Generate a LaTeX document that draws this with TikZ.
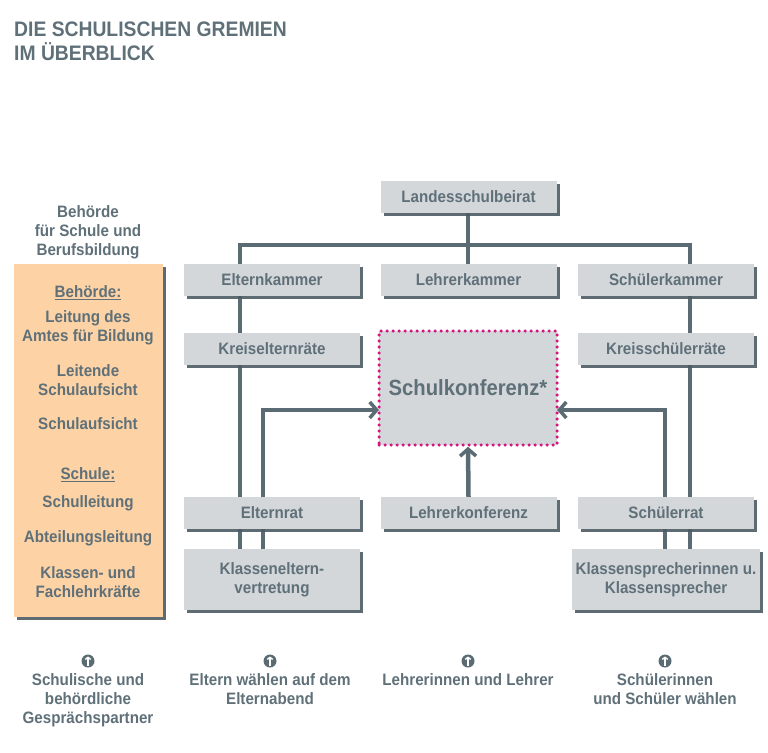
\documentclass[tikz,border=0pt]{standalone}
\usepackage{fontspec}
\setmainfont{Liberation Sans}[FakeStretch=0.92]
\usetikzlibrary{shadows,arrows.meta}
\definecolor{txt}{HTML}{5F7079}
\definecolor{boxf}{HTML}{D4D7DA}
\definecolor{ln}{HTML}{5B6B74}
\definecolor{org}{HTML}{FDD3A5}
\definecolor{mag}{HTML}{D4147F}
\tikzset{
  gbox/.style={fill=boxf,minimum width=176pt,minimum height=32pt,text=txt,font=\bfseries\fontsize{16.5}{19}\selectfont,align=center,
    drop shadow={shadow xshift=3pt,shadow yshift=-3pt,fill=ln!85!black,opacity=0.9}},
  tx/.style={text=txt,font=\bfseries\fontsize{16.5}{19}\selectfont,align=center},
  conn/.style={draw=ln,line width=4.5pt},
  arr/.style={conn,-{Straight Barb[length=7pt,width=16pt,line width=3.5pt]}},
  ico/.style={circle,fill=ln,inner sep=0pt,minimum size=13pt}
}
\begin{document}
\begin{tikzpicture}[x=1pt,y=-1pt]
\useasboundingbox (0,0) rectangle (768,752);
% title
\node[anchor=north west,text=txt,font=\bfseries\fontsize{21}{24}\selectfont,align=left,inner sep=0pt] (title) at (14,22) {DIE SCHULISCHEN GREMIEN\\IM ÜBERBLICK};
% left column
\node[tx] (behhead) at (88,232) {Behörde\\für Schule und\\Berufsbildung};
\node[fill=org,minimum width=149pt,minimum height=353pt,drop shadow={shadow xshift=3pt,shadow yshift=-3pt,fill=ln!85!black,opacity=0.9}] (orange) at (88.5,440.5) {};
\node[tx] (l1) at (88,293) {\underline{Behörde:}};
\node[tx] (l2) at (88,328) {Leitung des\\Amtes für Bildung};
\node[tx] (l3) at (88,380) {Leitende\\Schulaufsicht};
\node[tx] (l4) at (88,424) {Schulaufsicht};
\node[tx] (l5) at (88,475) {\underline{Schule:}};
\node[tx] (l6) at (88,503) {Schulleitung};
\node[tx] (l7) at (88,538) {Abteilungsleitung};
\node[tx] (l8) at (88,582) {Klassen- und\\Fachlehrkräfte};
% connector points
\coordinate (hl) at (240,245);
\coordinate (hr) at (690,245);
\coordinate (hm) at (468,245);
\coordinate (kevtopL) at (240,549);
\coordinate (kevtopR) at (263,549);
\coordinate (kstopL) at (665,549);
\coordinate (kstopR) at (690,549);
\coordinate (skoW) at (379,410);
\coordinate (skoE) at (557,410);
% connectors (behind boxes)
\draw[conn] (240,296) -- (hl) -- (hr) -- (690,296);
\draw[conn] (468,213) -- (hm) -- (468,264);
\draw[conn] (240,296) -- (kevtopL);
\draw[conn] (690,296) -- (kstopR);
\draw[arr] (kevtopR) -- (263,410) -- (skoW);
\draw[arr] (kstopL) -- (665,410) -- (skoE);
% boxes
\node[gbox] (lsb) at (468.5,197) {Landesschulbeirat};
\node[gbox] (ek) at (272,280) {Elternkammer};
\node[gbox] (lk) at (468.5,280) {Lehrerkammer};
\node[gbox] (sk) at (666,280) {Schülerkammer};
\node[gbox] (ker) at (272,349) {Kreiselternräte};
\node[gbox] (ksr) at (666,349) {Kreisschülerräte};
\node[fill=boxf,minimum width=178pt,minimum height=114pt,draw=mag,line width=3.5pt,dash pattern=on 0pt off 6pt,line cap=round,text=txt,font=\bfseries\fontsize{22}{26}\selectfont] (sko) at (468,388) {Schulkonferenz*};
\node[gbox] (er) at (272,513) {Elternrat};
\node[gbox] (lko) at (468.5,513) {Lehrerkonferenz};
\node[gbox] (sr) at (666,513) {Schülerrat};
\node[gbox,minimum height=61pt] (kev) at (272,579.5) {Klasseneltern-\\vertretung};
\node[gbox,minimum height=61pt] (ks) at (666,579.5) {Klassensprecherinnen u.\\Klassensprecher};
\draw[arr] (lko.north) -- (sko.south);
% bottom legend
\foreach \n/\x in {a/88,b/270,c/468,d/665}{
  \node[ico] (i\n) at (\x,661) {};
  \draw[white,line width=1.4pt,-{Straight Barb[length=2pt,width=5.5pt]}] (\x,665.5) -- (\x,656.5);
}
\node[tx,anchor=north] (ta) at (88,670) {Schulische und\\behördliche\\Gesprächspartner};
\node[tx,anchor=north] (tb) at (270,670) {Eltern wählen auf dem\\Elternabend};
\node[tx,anchor=north] (tc) at (468,670) {Lehrerinnen und Lehrer};
\node[tx,anchor=north] (td) at (665,670) {Schülerinnen\\und Schüler wählen};
\end{tikzpicture}
\end{document}
